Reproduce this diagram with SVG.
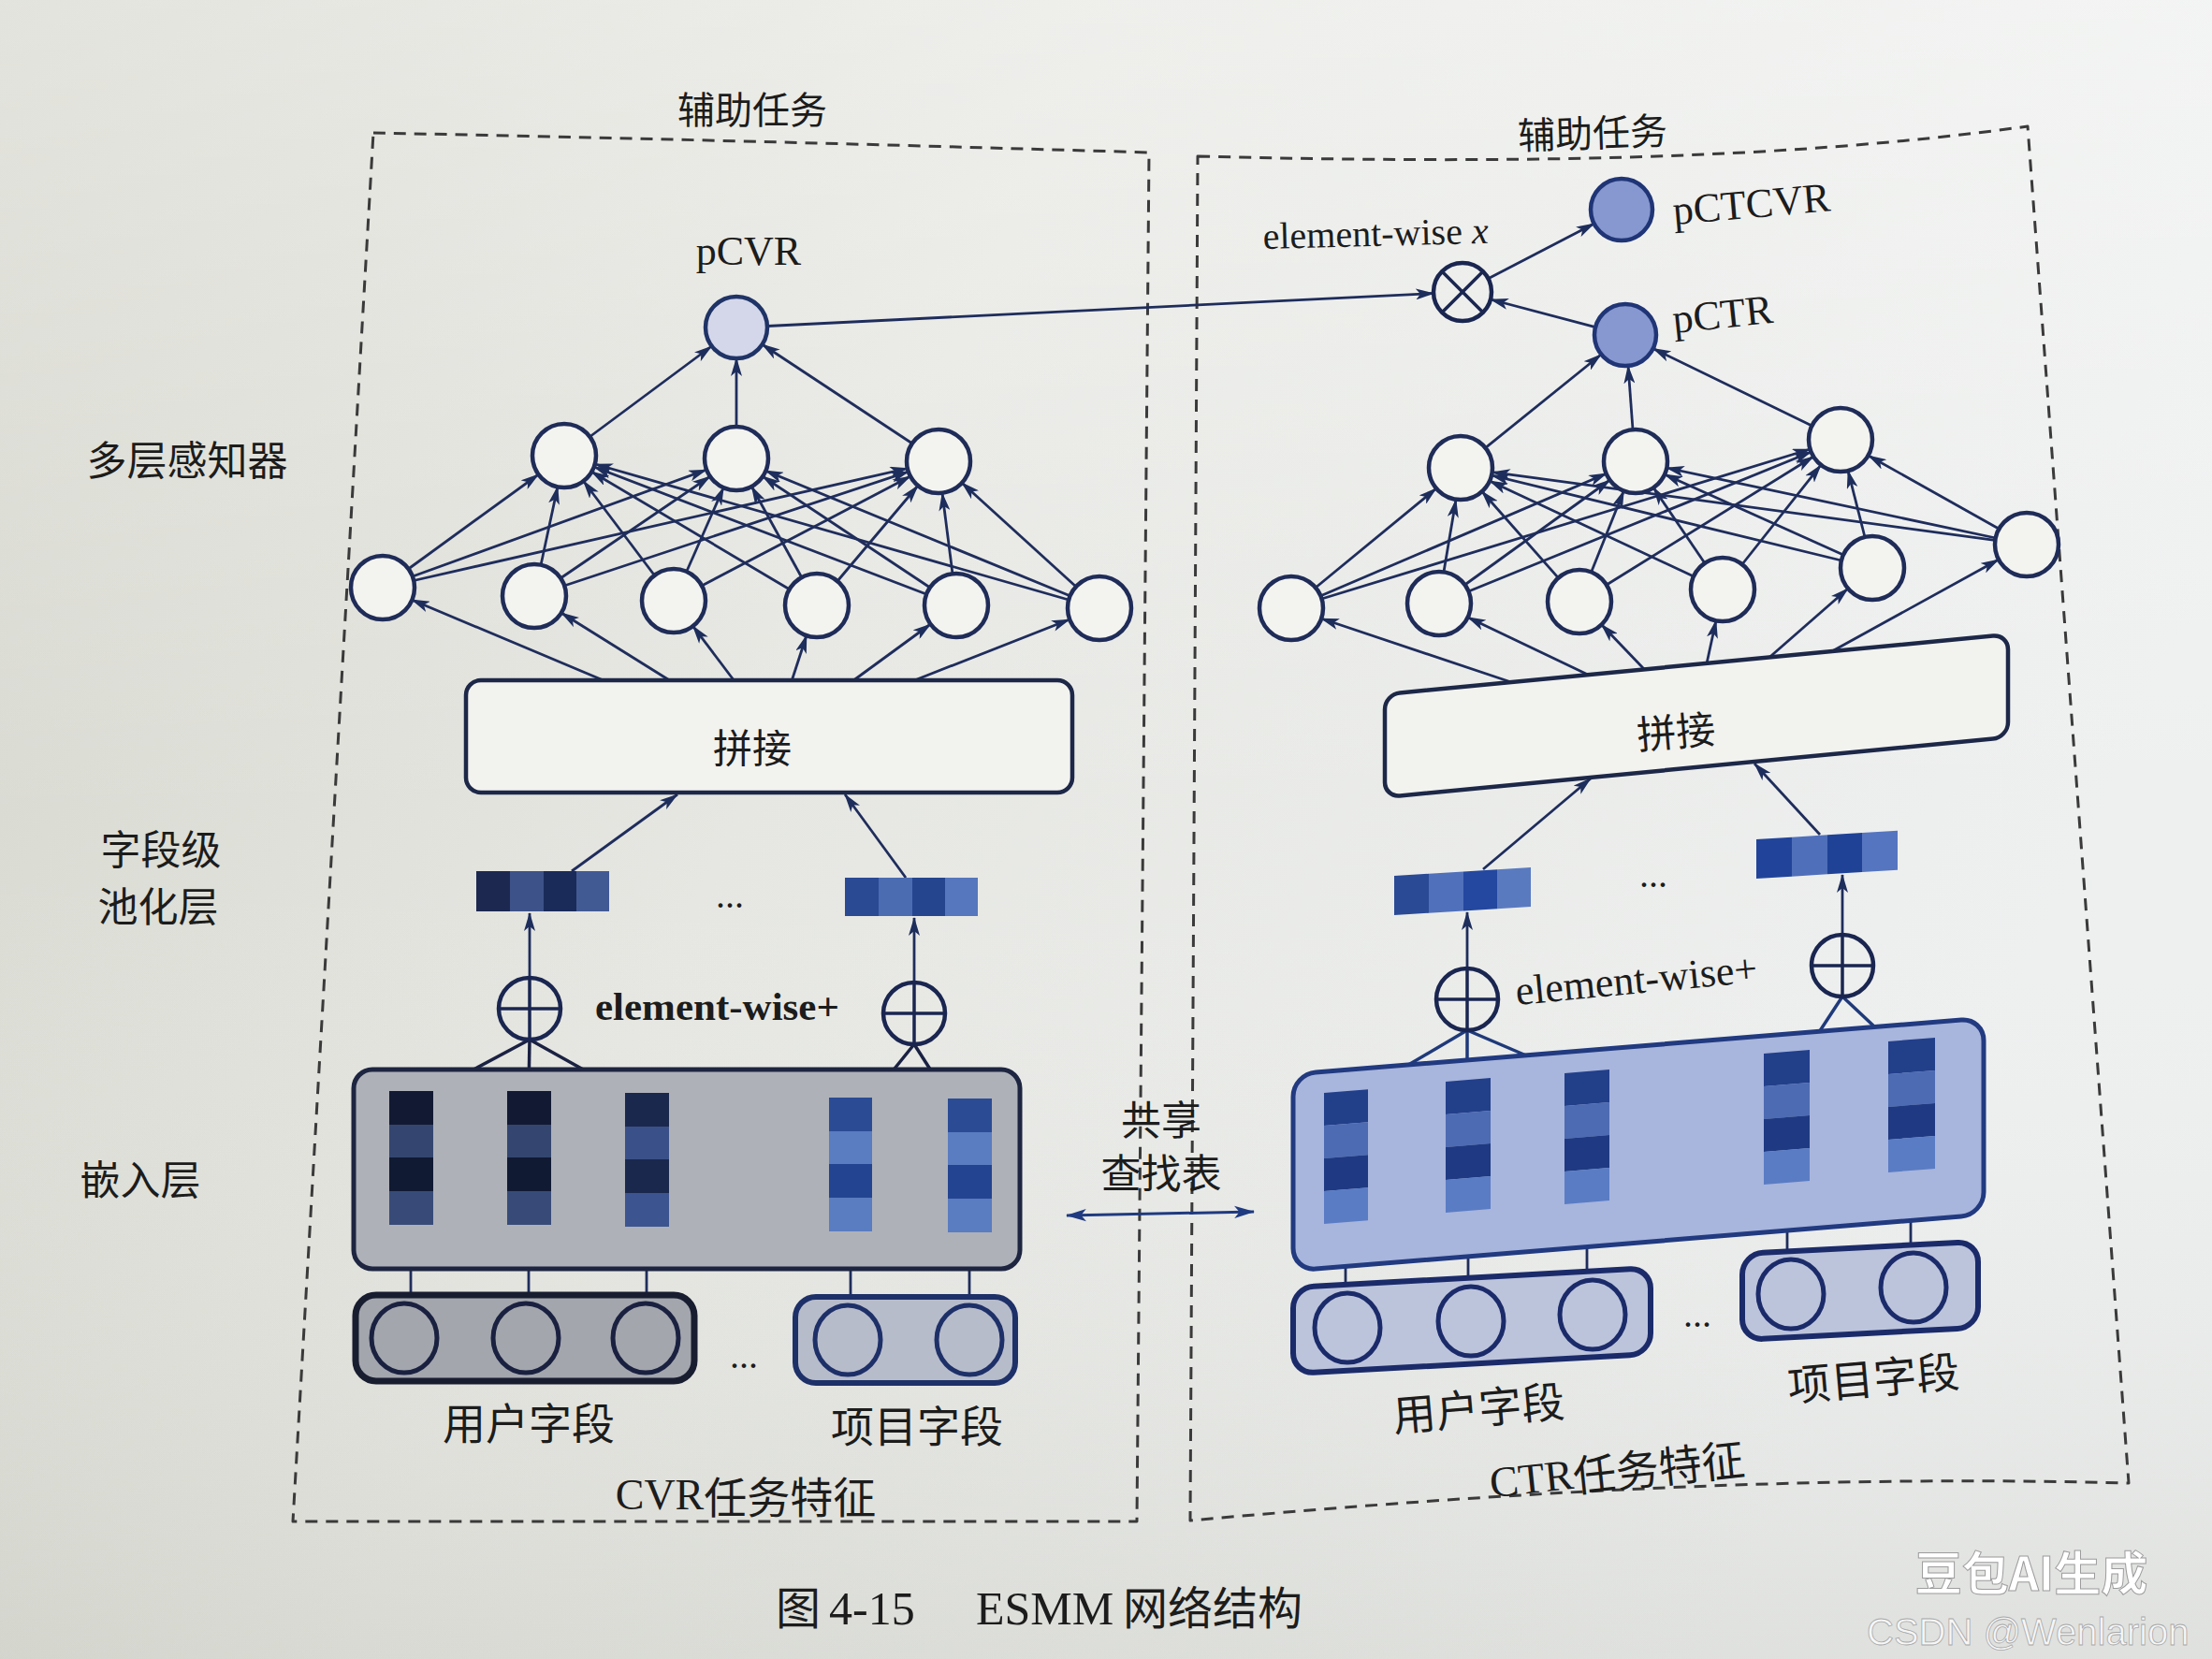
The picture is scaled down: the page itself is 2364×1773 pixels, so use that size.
<svg xmlns="http://www.w3.org/2000/svg" width="2364" height="1773" viewBox="0 0 2364 1773">
<defs>
<linearGradient id="bg" x1="0" y1="0" x2="1" y2="0.35">
<stop offset="0" stop-color="#d4d5cb"/>
<stop offset="0.45" stop-color="#e6e7e2"/>
<stop offset="1" stop-color="#eef0f0"/>
</linearGradient>
<linearGradient id="bg2" x1="0" y1="0" x2="0" y2="1">
<stop offset="0" stop-color="#ffffff" stop-opacity="0.35"/>
<stop offset="0.5" stop-color="#ffffff" stop-opacity="0"/>
<stop offset="1" stop-color="#9a9b8c" stop-opacity="0.18"/>
</linearGradient>
<marker id="ah" viewBox="0 0 20 12" refX="19" refY="6" markerWidth="20" markerHeight="12" markerUnits="userSpaceOnUse" orient="auto">
<path d="M0,0 L20,6 L0,12 L5,6 Z" fill="#1d2d5c"/>
</marker>
<marker id="ah2" viewBox="0 0 20 12" refX="19" refY="6" markerWidth="22" markerHeight="14" markerUnits="userSpaceOnUse" orient="auto-start-reverse">
<path d="M0,0 L20,6 L0,12 L5,6 Z" fill="#1f3a80"/>
</marker>
</defs>
<style>
.cn{font-family:"Noto Sans CJK SC","Noto Sans",sans-serif;fill:#1c1c1c}
.se{font-family:"Liberation Serif","Times New Roman","Noto Sans CJK SC",serif;fill:#1c1c1c}
.dash{fill:none;stroke:#3a3a3a;stroke-width:3;stroke-dasharray:13 9;stroke-linejoin:round}
.node{fill:#f3f3ef;stroke:#1f2c58;stroke-width:4.5}
.ln{stroke:#1f2d5c;stroke-width:2.8;fill:none;marker-end:url(#ah)}
.pl{stroke:#1a2142;stroke-width:3.5;fill:none}
.pr{stroke:#1f3a7a;stroke-width:3.5;fill:none}
.op{fill:none;stroke:#1a2650;stroke-width:4.5}
.box{fill:#f2f2ef;stroke:#1d2848;stroke-width:4.5}
</style>

<rect x="0" y="0" width="2364" height="1773" fill="url(#bg)"/>
<rect x="0" y="0" width="2364" height="1773" fill="url(#bg2)"/>

<!-- dashed task boxes -->
<g id="cvr-task-box">
<path class="dash" d="M399,142 Q800,150 1228,163 L1215,1626 L313,1626 Z"/>
</g>
<g id="ctr-task-box">
<path class="dash" d="M1280,167 C1600,175 1900,172 2167,135 L2275,1585 C1900,1575 1550,1600 1272,1625 Z"/>
</g>

<!-- labels -->
<g id="labels">
<text class="cn" x="804" y="115" font-size="40" text-anchor="middle" dominant-baseline="central">辅助任务</text>
<text class="cn" x="1702" y="140" font-size="40" text-anchor="middle" dominant-baseline="central" transform="rotate(-2 1702 140)">辅助任务</text>
<text class="cn" x="200" y="489" font-size="43" text-anchor="middle" dominant-baseline="central">多层感知器</text>
<text class="cn" x="172" y="905" font-size="43" text-anchor="middle" dominant-baseline="central">字段级</text>
<text class="cn" x="169" y="966" font-size="43" text-anchor="middle" dominant-baseline="central">池化层</text>
<text class="cn" x="150" y="1258" font-size="43" text-anchor="middle" dominant-baseline="central">嵌入层</text>
<text class="se" x="800" y="283" font-size="44" text-anchor="middle">pCVR</text>
<text class="se" x="1789" y="240" font-size="44" transform="rotate(-5 1789 240)">pCTCVR</text>
<text class="se" x="1789" y="356" font-size="44" transform="rotate(-6 1789 356)">pCTR</text>
<text class="se" x="1350" y="266" font-size="40" transform="rotate(-1.5 1350 266)">element-wise <tspan font-style="italic">x</tspan></text>
<text class="se" x="636" y="1090" font-size="43" font-weight="bold">element-wise+</text>
<text class="se" x="1621" y="1074" font-size="44" transform="rotate(-5.5 1621 1074)">element-wise+</text>
<text class="se" x="780" y="970" font-size="40" text-anchor="middle">...</text>
<text class="se" x="795" y="1462" font-size="40" text-anchor="middle">...</text>
<text class="se" x="1767" y="948" font-size="40" text-anchor="middle">...</text>
<text class="se" x="1814" y="1418" font-size="40" text-anchor="middle">...</text>
<text class="cn" x="565" y="1518" font-size="46" text-anchor="middle" dominant-baseline="central">用户字段</text>
<text class="cn" x="980" y="1521" font-size="46" text-anchor="middle" dominant-baseline="central">项目字段</text>
<text class="cn" x="797" y="1597" font-size="46" text-anchor="middle" dominant-baseline="central"><tspan class="se">CVR</tspan>任务特征</text>
<text class="cn" x="1580" y="1502" font-size="46" text-anchor="middle" dominant-baseline="central" transform="rotate(-5 1580 1502)">用户字段</text>
<text class="cn" x="2002" y="1470" font-size="46" text-anchor="middle" dominant-baseline="central" transform="rotate(-5 2002 1470)">项目字段</text>
<text class="cn" x="1728" y="1570" font-size="46" text-anchor="middle" dominant-baseline="central" transform="rotate(-6 1728 1570)"><tspan class="se">CTR</tspan>任务特征</text>
<text class="cn" x="1241" y="1194" font-size="43" text-anchor="middle" dominant-baseline="central">共享</text>
<text class="cn" x="1241" y="1251" font-size="43" text-anchor="middle" dominant-baseline="central">查找表</text>
<text class="cn" x="829" y="1736" font-size="48">图</text>
<text class="se" x="886" y="1736" font-size="50">4-15</text>
<text class="se" x="1043" y="1736" font-size="50">ESMM</text>
<text class="cn" x="1200" y="1736" font-size="48">网络结构</text>
<text x="2171" y="1678" font-size="50" font-weight="bold" text-anchor="middle" dominant-baseline="central" fill="#ffffff" stroke="#9c9c9c" stroke-width="1" style="font-family:'Noto Sans CJK SC','Noto Sans',sans-serif">豆包AI生成</text>
<text x="1995" y="1758" font-size="40" fill="#f6f6f6" stroke="#a8a8a8" stroke-width="0.8" style="font-family:'Liberation Sans',Arial,sans-serif">CSDN @Wenlarion</text>
</g>

<!-- connectors -->
<g id="connectors">
<line class="ln" x1="436.5" y1="608" x2="575.5" y2="507"/>
<line class="ln" x1="441" y1="616" x2="755" y2="502"/>
<line class="ln" x1="442" y1="620.5" x2="970" y2="500.5"/>
<line class="ln" x1="578" y1="604" x2="596" y2="520"/>
<line class="ln" x1="599" y1="618" x2="759" y2="509"/>
<line class="ln" x1="603" y1="626" x2="971" y2="504"/>
<line class="ln" x1="699.5" y1="615" x2="623.5" y2="514"/>
<line class="ln" x1="733.7" y1="611" x2="773.3" y2="521"/>
<line class="ln" x1="750" y1="626" x2="973" y2="509"/>
<line class="ln" x1="844" y1="630" x2="632" y2="504"/>
<line class="ln" x1="856.7" y1="617" x2="803.3" y2="520"/>
<line class="ln" x1="895" y1="621" x2="981" y2="519"/>
<line class="ln" x1="990" y1="635" x2="635" y2="499"/>
<line class="ln" x1="994" y1="628" x2="815" y2="509"/>
<line class="ln" x1="1018" y1="613" x2="1007" y2="527"/>
<line class="ln" x1="1142" y1="641" x2="636" y2="496"/>
<line class="ln" x1="1144" y1="637" x2="818" y2="503"/>
<line class="ln" x1="1150" y1="627" x2="1028" y2="516"/>
<line class="ln" x1="630" y1="467" x2="760.5" y2="370"/>
<line class="ln" x1="787" y1="456" x2="787" y2="383"/>
<line class="ln" x1="975" y1="474" x2="814.5" y2="368"/>
<line class="ln" x1="647" y1="728" x2="440" y2="641"/>
<line class="ln" x1="717" y1="728" x2="600" y2="655"/>
<line class="ln" x1="785" y1="728" x2="740.5" y2="669"/>
<line class="ln" x1="846" y1="728" x2="862" y2="679"/>
<line class="ln" x1="911" y1="728" x2="994.5" y2="667"/>
<line class="ln" x1="975" y1="728" x2="1143" y2="662"/>

<line class="ln" x1="1406" y1="628" x2="1535" y2="522"/>
<line class="ln" x1="1411" y1="637" x2="1717" y2="506"/>
<line class="ln" x1="1412.5" y1="640" x2="1934.5" y2="480"/>
<line class="ln" x1="1543" y1="611" x2="1556" y2="534"/>
<line class="ln" x1="1565.5" y1="625" x2="1720.5" y2="513"/>
<line class="ln" x1="1569.5" y1="632" x2="1935.5" y2="483"/>
<line class="ln" x1="1665.4" y1="617.6" x2="1583.6" y2="525"/>
<line class="ln" x1="1700.6" y1="611.5" x2="1735.4" y2="524.5"/>
<line class="ln" x1="1717" y1="625" x2="1938" y2="488"/>
<line class="ln" x1="1810" y1="616" x2="1592" y2="514"/>
<line class="ln" x1="1822" y1="602" x2="1767" y2="521"/>
<line class="ln" x1="1862" y1="603" x2="1946" y2="497"/>
<line class="ln" x1="1968" y1="599" x2="1594" y2="508"/>
<line class="ln" x1="1970" y1="593" x2="1779" y2="507"/>
<line class="ln" x1="1993" y1="574" x2="1975" y2="503"/>
<line class="ln" x1="2132" y1="577.4" x2="1595" y2="504.6"/>
<line class="ln" x1="2133" y1="575" x2="1781" y2="500"/>
<line class="ln" x1="2136" y1="565" x2="1997" y2="487"/>
<line class="ln" x1="1587.5" y1="478.6" x2="1711" y2="379"/>
<line class="ln" x1="1745" y1="459" x2="1740" y2="391"/>
<line class="ln" x1="1936.4" y1="455" x2="1766.7" y2="372.5"/>
<line class="ln" x1="1615" y1="729" x2="1412" y2="661"/>
<line class="ln" x1="1697" y1="721" x2="1568.7" y2="659.7"/>
<line class="ln" x1="1757" y1="715" x2="1711.5" y2="667.5"/>
<line class="ln" x1="1824" y1="709" x2="1834" y2="663"/>
<line class="ln" x1="1891" y1="702.5" x2="1975" y2="629"/>
<line class="ln" x1="1958" y1="696" x2="2136" y2="598"/>

<line class="ln" x1="820" y1="348.5" x2="1532" y2="313.5"/>
<line class="ln" x1="1705" y1="349.6" x2="1593" y2="320"/>
<line class="ln" x1="1590.5" y1="297.7" x2="1703.7" y2="239"/>

<line class="ln" x1="611" y1="931" x2="724" y2="849"/>
<line class="ln" x1="968" y1="938" x2="903" y2="849"/>
<line class="ln" x1="1585" y1="929" x2="1700" y2="832"/>
<line class="ln" x1="1945" y1="892" x2="1875" y2="816"/>

<line class="ln" x1="566" y1="1045" x2="566" y2="976"/>
<line class="ln" x1="977" y1="1050" x2="977" y2="981"/>
<line class="ln" x1="1568" y1="1035" x2="1568" y2="975"/>
<line class="ln" x1="1969" y1="999" x2="1969" y2="935"/>

<line class="pl" x1="566" y1="1111" x2="463" y2="1166"/>
<line class="pl" x1="566" y1="1111" x2="565" y2="1166"/>
<line class="pl" x1="566" y1="1111" x2="668" y2="1168"/>
<line class="pl" x1="977" y1="1116" x2="931" y2="1173"/>
<line class="pl" x1="977" y1="1116" x2="1014" y2="1174"/>
<line class="pr" x1="1568" y1="1101" x2="1461" y2="1164"/>
<line class="pr" x1="1568" y1="1101" x2="1568" y2="1155"/>
<line class="pr" x1="1568" y1="1101" x2="1673" y2="1146"/>
<line class="pr" x1="1969" y1="1065" x2="1931" y2="1123"/>
<line class="pr" x1="1969" y1="1065" x2="2019" y2="1112"/>

<line class="ln" x1="439" y1="1394" x2="439" y2="1310"/>
<line class="ln" x1="565" y1="1394" x2="565" y2="1310"/>
<line class="ln" x1="691" y1="1394" x2="691" y2="1312"/>
<line class="ln" x1="909" y1="1396" x2="909" y2="1318"/>
<line class="ln" x1="1036" y1="1396" x2="1036" y2="1319"/>
<line class="ln" x1="1438" y1="1384" x2="1438" y2="1307"/>
<line class="ln" x1="1569" y1="1377" x2="1569" y2="1296"/>
<line class="ln" x1="1696" y1="1370" x2="1696" y2="1287"/>
<line class="ln" x1="1910" y1="1348" x2="1910" y2="1266"/>
<line class="ln" x1="2042" y1="1341" x2="2042" y2="1253"/>

<line x1="1140" y1="1299" x2="1340" y2="1295" stroke="#1f3a80" stroke-width="3" marker-start="url(#ah2)" marker-end="url(#ah2)"/>
</g>

<!-- left MLP nodes -->
<g id="cvr-h1-1"><circle class="node" cx="409" cy="628" r="34"/></g>
<g id="cvr-h1-2"><circle class="node" cx="571" cy="637" r="34"/></g>
<g id="cvr-h1-3"><circle class="node" cx="720" cy="642" r="34"/></g>
<g id="cvr-h1-4"><circle class="node" cx="873" cy="647" r="34"/></g>
<g id="cvr-h1-5"><circle class="node" cx="1022" cy="647" r="34"/></g>
<g id="cvr-h1-6"><circle class="node" cx="1175" cy="650" r="34"/></g>
<g id="cvr-h2-1"><circle class="node" cx="603" cy="487" r="34"/></g>
<g id="cvr-h2-2"><circle class="node" cx="787" cy="490" r="34"/></g>
<g id="cvr-h2-3"><circle class="node" cx="1003" cy="493" r="34"/></g>
<g id="pcvr"><circle cx="787" cy="350" r="33" fill="#d4d7ea" stroke="#1f3366" stroke-width="4.5"/></g>

<!-- right MLP nodes -->
<g id="ctr-h1-1"><circle class="node" cx="1380" cy="650" r="34"/></g>
<g id="ctr-h1-2"><circle class="node" cx="1538" cy="645" r="34"/></g>
<g id="ctr-h1-3"><circle class="node" cx="1688" cy="643" r="34"/></g>
<g id="ctr-h1-4"><circle class="node" cx="1841" cy="630" r="34"/></g>
<g id="ctr-h1-5"><circle class="node" cx="2001" cy="607" r="34"/></g>
<g id="ctr-h1-6"><circle class="node" cx="2166" cy="582" r="34"/></g>
<g id="ctr-h2-1"><circle class="node" cx="1561" cy="500" r="34"/></g>
<g id="ctr-h2-2"><circle class="node" cx="1748" cy="493" r="34"/></g>
<g id="ctr-h2-3"><circle class="node" cx="1967" cy="470" r="34"/></g>
<g id="pctr"><circle cx="1737" cy="358" r="33" fill="#8798d0" stroke="#203576" stroke-width="4.5"/></g>
<g id="pctcvr"><circle cx="1733" cy="224" r="33" fill="#8798d0" stroke="#203576" stroke-width="4.5"/></g>
<g id="mult">
<circle class="op" cx="1563" cy="312" r="31"/>
<line x1="1541" y1="290" x2="1585" y2="334" stroke="#1a2650" stroke-width="3.5"/>
<line x1="1585" y1="290" x2="1541" y2="334" stroke="#1a2650" stroke-width="3.5"/>
</g>

<!-- concat boxes -->
<g id="cvr-concat">
<rect class="box" x="498" y="727" width="648" height="120" rx="16"/>
<text class="cn" x="804" y="796" font-size="42" text-anchor="middle" dominant-baseline="central">拼接</text>
</g>
<g id="ctr-concat">
<rect class="box" x="0" y="0" width="666" height="110" rx="16" transform="translate(1480 742) skewY(-5.49)"/>
<text class="cn" x="1791" y="779" font-size="42" text-anchor="middle" dominant-baseline="central" transform="rotate(-5 1791 779)">拼接</text>
</g>

<!-- pooled vectors -->
<g id="cvr-pool-user">
<rect x="509" y="931" width="36" height="43" fill="#1c2850"/>
<rect x="545" y="931" width="36" height="43" fill="#3d5288"/>
<rect x="581" y="931" width="35" height="43" fill="#1a2b5a"/>
<rect x="616" y="931" width="35" height="43" fill="#425a94"/>
</g>
<g id="cvr-pool-item">
<rect x="903" y="938" width="36" height="41" fill="#2a4a94"/>
<rect x="939" y="938" width="36" height="41" fill="#4c6cb2"/>
<rect x="975" y="938" width="35" height="41" fill="#25468f"/>
<rect x="1010" y="938" width="35" height="41" fill="#5677bd"/>
</g>
<g id="ctr-pool-user" transform="translate(1490 936) skewY(-3.5)">
<rect x="0" y="0" width="37" height="42" fill="#2a4a95"/>
<rect x="37" y="0" width="37" height="42" fill="#5070bb"/>
<rect x="74" y="0" width="36" height="42" fill="#2448a0"/>
<rect x="110" y="0" width="36" height="42" fill="#5a7ac0"/>
</g>
<g id="ctr-pool-item" transform="translate(1877 897) skewY(-3.5)">
<rect x="0" y="0" width="38" height="42" fill="#21449a"/>
<rect x="38" y="0" width="38" height="42" fill="#4f6fba"/>
<rect x="76" y="0" width="37" height="42" fill="#1f4296"/>
<rect x="113" y="0" width="38" height="42" fill="#5575c0"/>
</g>

<!-- element-wise + operators -->
<g id="cvr-add-user"><circle class="op" cx="566" cy="1078" r="33"/><line x1="533" y1="1078" x2="599" y2="1078" stroke="#1a2650" stroke-width="3.5"/><line x1="566" y1="1045" x2="566" y2="1111" stroke="#1a2650" stroke-width="3.5"/></g>
<g id="cvr-add-item"><circle class="op" cx="977" cy="1083" r="33"/><line x1="944" y1="1083" x2="1010" y2="1083" stroke="#1a2650" stroke-width="3.5"/><line x1="977" y1="1050" x2="977" y2="1116" stroke="#1a2650" stroke-width="3.5"/></g>
<g id="ctr-add-user"><circle class="op" cx="1568" cy="1068" r="33"/><line x1="1535" y1="1068" x2="1601" y2="1068" stroke="#1a2650" stroke-width="3.5"/><line x1="1568" y1="1035" x2="1568" y2="1101" stroke="#1a2650" stroke-width="3.5"/></g>
<g id="ctr-add-item"><circle class="op" cx="1969" cy="1032" r="33"/><line x1="1936" y1="1032" x2="2002" y2="1032" stroke="#1a2650" stroke-width="3.5"/><line x1="1969" y1="999" x2="1969" y2="1065" stroke="#1a2650" stroke-width="3.5"/></g>

<!-- embedding layers -->
<g id="cvr-embedding">
<rect x="378" y="1143" width="712" height="213" rx="20" fill="#aeb1b8" stroke="#1d2540" stroke-width="5"/>
<g>
<rect x="416" y="1166" width="47" height="36" fill="#121a33"/><rect x="416" y="1202" width="47" height="35" fill="#34466f"/><rect x="416" y="1237" width="47" height="36" fill="#111a33"/><rect x="416" y="1273" width="47" height="36" fill="#384b78"/>
</g>
<g>
<rect x="542" y="1166" width="47" height="36" fill="#121a33"/><rect x="542" y="1202" width="47" height="35" fill="#34466f"/><rect x="542" y="1237" width="47" height="36" fill="#111a33"/><rect x="542" y="1273" width="47" height="36" fill="#384b78"/>
</g>
<g>
<rect x="668" y="1168" width="47" height="36" fill="#1a284d"/><rect x="668" y="1204" width="47" height="35" fill="#3a5088"/><rect x="668" y="1239" width="47" height="36" fill="#1a284d"/><rect x="668" y="1275" width="47" height="36" fill="#3c5590"/>
</g>
<g>
<rect x="886" y="1173" width="46" height="36" fill="#2b4c95"/><rect x="886" y="1209" width="46" height="35" fill="#5a7cc0"/><rect x="886" y="1244" width="46" height="36" fill="#234490"/><rect x="886" y="1280" width="46" height="36" fill="#5a7cc0"/>
</g>
<g>
<rect x="1013" y="1174" width="47" height="36" fill="#2b4c95"/><rect x="1013" y="1210" width="47" height="35" fill="#5a7cc0"/><rect x="1013" y="1245" width="47" height="36" fill="#234490"/><rect x="1013" y="1281" width="47" height="36" fill="#5a7cc0"/>
</g>
</g>
<g id="ctr-embedding">
<rect x="0" y="0" width="738" height="210" rx="24" fill="#a8b5dc" stroke="#213a80" stroke-width="5" transform="translate(1382 1148) skewY(-4.64)"/>
<g transform="translate(1415 1168) skewY(-4.64)"><rect x="0" y="0" width="47" height="35" fill="#223f8a"/><rect x="0" y="35" width="47" height="35" fill="#4d6bb2"/><rect x="0" y="70" width="47" height="35" fill="#1f3a82"/><rect x="0" y="105" width="47" height="35" fill="#5a7cc4"/></g>
<g transform="translate(1545 1156) skewY(-4.64)"><rect x="0" y="0" width="48" height="35" fill="#223f8a"/><rect x="0" y="35" width="48" height="35" fill="#4d6bb2"/><rect x="0" y="70" width="48" height="35" fill="#1f3a82"/><rect x="0" y="105" width="48" height="35" fill="#5a7cc4"/></g>
<g transform="translate(1672 1147) skewY(-4.64)"><rect x="0" y="0" width="48" height="35" fill="#223f8a"/><rect x="0" y="35" width="48" height="35" fill="#4d6bb2"/><rect x="0" y="70" width="48" height="35" fill="#1f3a82"/><rect x="0" y="105" width="48" height="35" fill="#5a7cc4"/></g>
<g transform="translate(1885 1126) skewY(-4.64)"><rect x="0" y="0" width="49" height="35" fill="#223f8a"/><rect x="0" y="35" width="49" height="35" fill="#4d6bb2"/><rect x="0" y="70" width="49" height="35" fill="#1f3a82"/><rect x="0" y="105" width="49" height="35" fill="#5a7cc4"/></g>
<g transform="translate(2018 1113) skewY(-4.64)"><rect x="0" y="0" width="50" height="35" fill="#223f8a"/><rect x="0" y="35" width="50" height="35" fill="#4d6bb2"/><rect x="0" y="70" width="50" height="35" fill="#1f3a82"/><rect x="0" y="105" width="50" height="35" fill="#5a7cc4"/></g>
</g>

<!-- input fields -->
<g id="cvr-user-field">
<rect x="380" y="1384" width="362" height="92" rx="22" fill="#a3a6ad" stroke="#181d30" stroke-width="7"/>
<ellipse cx="432" cy="1430" rx="35" ry="37" fill="none" stroke="#1a2140" stroke-width="5"/>
<ellipse cx="562" cy="1430" rx="35" ry="37" fill="none" stroke="#1a2140" stroke-width="5"/>
<ellipse cx="690" cy="1430" rx="35" ry="37" fill="none" stroke="#1a2140" stroke-width="5"/>
</g>
<g id="cvr-item-field">
<rect x="850" y="1386" width="235" height="92" rx="22" fill="#b7bccb" stroke="#1e3068" stroke-width="6"/>
<ellipse cx="906" cy="1432" rx="35" ry="37" fill="none" stroke="#1e3068" stroke-width="5"/>
<ellipse cx="1036" cy="1432" rx="35" ry="37" fill="none" stroke="#1e3068" stroke-width="5"/>
</g>
<g id="ctr-user-field">
<rect x="0" y="0" width="382" height="92" rx="22" fill="#bcc4dc" stroke="#1b2b6a" stroke-width="6" transform="translate(1382 1376) skewY(-3.15)"/>
<ellipse cx="1440" cy="1419" rx="35" ry="37" fill="none" stroke="#1b2b6a" stroke-width="5"/>
<ellipse cx="1572" cy="1412" rx="35" ry="37" fill="none" stroke="#1b2b6a" stroke-width="5"/>
<ellipse cx="1702" cy="1405" rx="35" ry="37" fill="none" stroke="#1b2b6a" stroke-width="5"/>
</g>
<g id="ctr-item-field">
<rect x="0" y="0" width="252" height="92" rx="22" fill="#bcc4dc" stroke="#1b2b6a" stroke-width="6" transform="translate(1862 1340) skewY(-3)"/>
<ellipse cx="1914" cy="1383" rx="35" ry="37" fill="none" stroke="#1b2b6a" stroke-width="5"/>
<ellipse cx="2045" cy="1376" rx="35" ry="37" fill="none" stroke="#1b2b6a" stroke-width="5"/>
</g>
</svg>
